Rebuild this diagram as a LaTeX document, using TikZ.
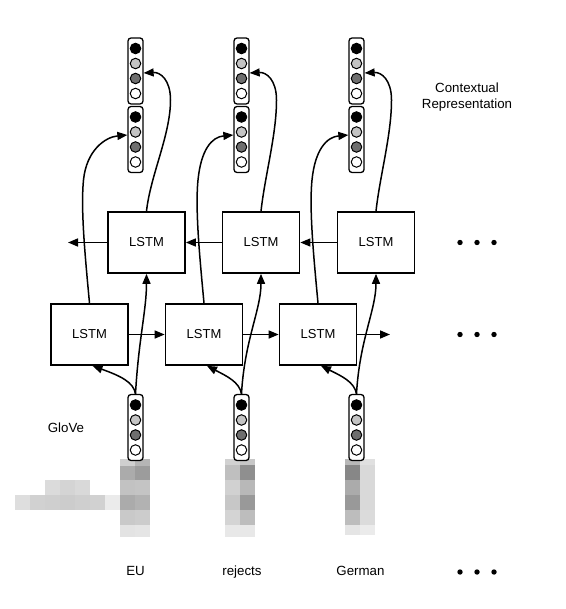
\documentclass[tikz,border=0pt]{standalone}
\usepackage{fontspec}
\setmainfont{Liberation Sans}
\usetikzlibrary{arrows.meta}
\begin{document}
\begin{tikzpicture}[x=1pt,y=-1pt,
  lstm/.style={draw, line width=1.7pt, minimum width=77pt, minimum height=61pt, inner sep=0pt, font=\fontsize{13}{15}\selectfont},
  vecbox/.style={draw, line width=1.3pt, rounded corners=3pt, minimum width=15pt, minimum height=66pt, inner sep=0pt, fill=white},
  cell/.style={draw, line width=1pt, circle, minimum size=10.5pt, inner sep=0pt},
  arr/.style={line width=1.5pt, -{Triangle[length=10pt,width=8pt]}},
  lbl/.style={font=\fontsize{13.3}{16}\selectfont, inner sep=0pt},
  dotn/.style={circle, fill=black, minimum size=5.4pt, inner sep=0pt}]
\useasboundingbox (0,0) rectangle (565,609);
\fill[white] (0,0) rectangle (565,609);
% blurred blocks
\foreach \xa/\ya/\xb/\yb/\p in {
  120/459/135/466/19, 120/466/135/480/33, 120/480/135/495/24, 120/495/135/510/33, 120/510/135/525/21, 120/525/135/537/11,
  135/459/150/466/29, 135/466/150/480/39, 135/480/150/495/23, 135/495/150/510/30, 135/510/150/525/20, 135/525/150/537/10,
  225/459/240/465/18, 225/465/240/480/25, 225/480/240/495/18, 225/495/240/510/22, 225/510/240/525/17, 225/525/240/537/9,
  240/459/255/465/22, 240/465/255/480/44, 240/480/255/495/28, 240/495/255/510/40, 240/510/255/525/26, 240/525/255/537/9,
  345/459/360/465/28, 345/465/360/480/47, 345/480/360/495/33, 345/495/360/510/40, 345/510/360/525/26, 345/525/360/535/10,
  360/459/375/465/12, 360/465/375/480/15, 360/480/375/495/15, 360/495/375/510/15, 360/510/375/525/14, 360/525/375/535/8,
  45/480/60/495/14, 60/480/75/495/17, 75/480/90/495/15,
  15/495/30/510/13, 30/495/45/510/18, 45/495/60/510/19, 60/495/75/510/20, 75/495/90/510/19, 90/495/105/510/18, 105/495/120/510/8}
  {\fill[black!\p] (\xa,\ya) rectangle (\xb,\yb);}
% columns
\foreach \i/\cx/\bx/\tx in {1/135.5/89.5/146.5, 2/241.5/204/261, 3/356.5/318/376}{
  \node[lstm] (bl\i) at (\bx,334.5) {LSTM};
  \node[lstm] (tl\i) at (\tx,242.5) {LSTM};
  \foreach \v/\vy in {va/71, vb/139.5, vc/427.5}{
    \node[vecbox] (\v\i) at (\cx,\vy) {};
    \node[cell, fill=black] (\v\i c1) at (\cx,\vy-22.5) {};
    \node[cell, fill=black!23] (\v\i c2) at (\cx,\vy-7.5) {};
    \node[cell, fill=black!57] (\v\i c3) at (\cx,\vy+7.5) {};
    \node[cell, fill=white] (\v\i c4) at (\cx,\vy+22.5) {};
  }
  \draw[arr] (vc\i.north) .. controls (\cx-2,382) and (\cx-15,376) .. ([xshift=3pt]bl\i.south);
  \draw[arr] (vc\i.north) .. controls (\cx+3,340) and (\tx,310) .. (tl\i.south);
  \draw[arr] (bl\i.north) .. controls (\bx-4,260) and (\bx-9,210) .. (\bx-6,180)
     .. controls (\bx-3,150) and (\cx-30,137) .. ([yshift=4.5pt]vb\i.west);
  \draw[arr] (tl\i.north) .. controls (\tx+4,175) and (\cx+35,135) .. (\cx+35,100)
     .. controls (\cx+35,80) and (\cx+25,72) .. ([yshift=-2pt]va\i.east);
}
\coordinate (tend) at (68,242.5);
\coordinate (bend) at (390,334.5);
\draw[arr] (tl3.west) -- (tl2.east);
\draw[arr] (tl2.west) -- (tl1.east);
\draw[arr] (tl1.west) -- (tend);
\draw[arr] (bl1.east) -- (bl2.west);
\draw[arr] (bl2.east) -- (bl3.west);
\draw[arr] (bl3.east) -- (bend);
% dots
\foreach \r/\y in {t/242.5, b/334.5, w/572}{
  \foreach \k/\x in {1/460, 2/477, 3/494}{
    \node[dotn] (d\r\k) at (\x,\y) {};
  }
}
% labels
\node[lbl, anchor=base] (ctx1) at (467,92.7) {Contextual};
\node[lbl, anchor=base] (ctx2) at (467,108.3) {Representation};
\node[lbl, anchor=base] (glove) at (66,432.7) {GloVe};
\node[lbl, anchor=base] (w1) at (135.5,575.5) {EU};
\node[lbl, anchor=base] (w2) at (242,575.5) {rejects};
\node[lbl, anchor=base] (w3) at (360.5,575.5) {German};
\end{tikzpicture}
\end{document}
